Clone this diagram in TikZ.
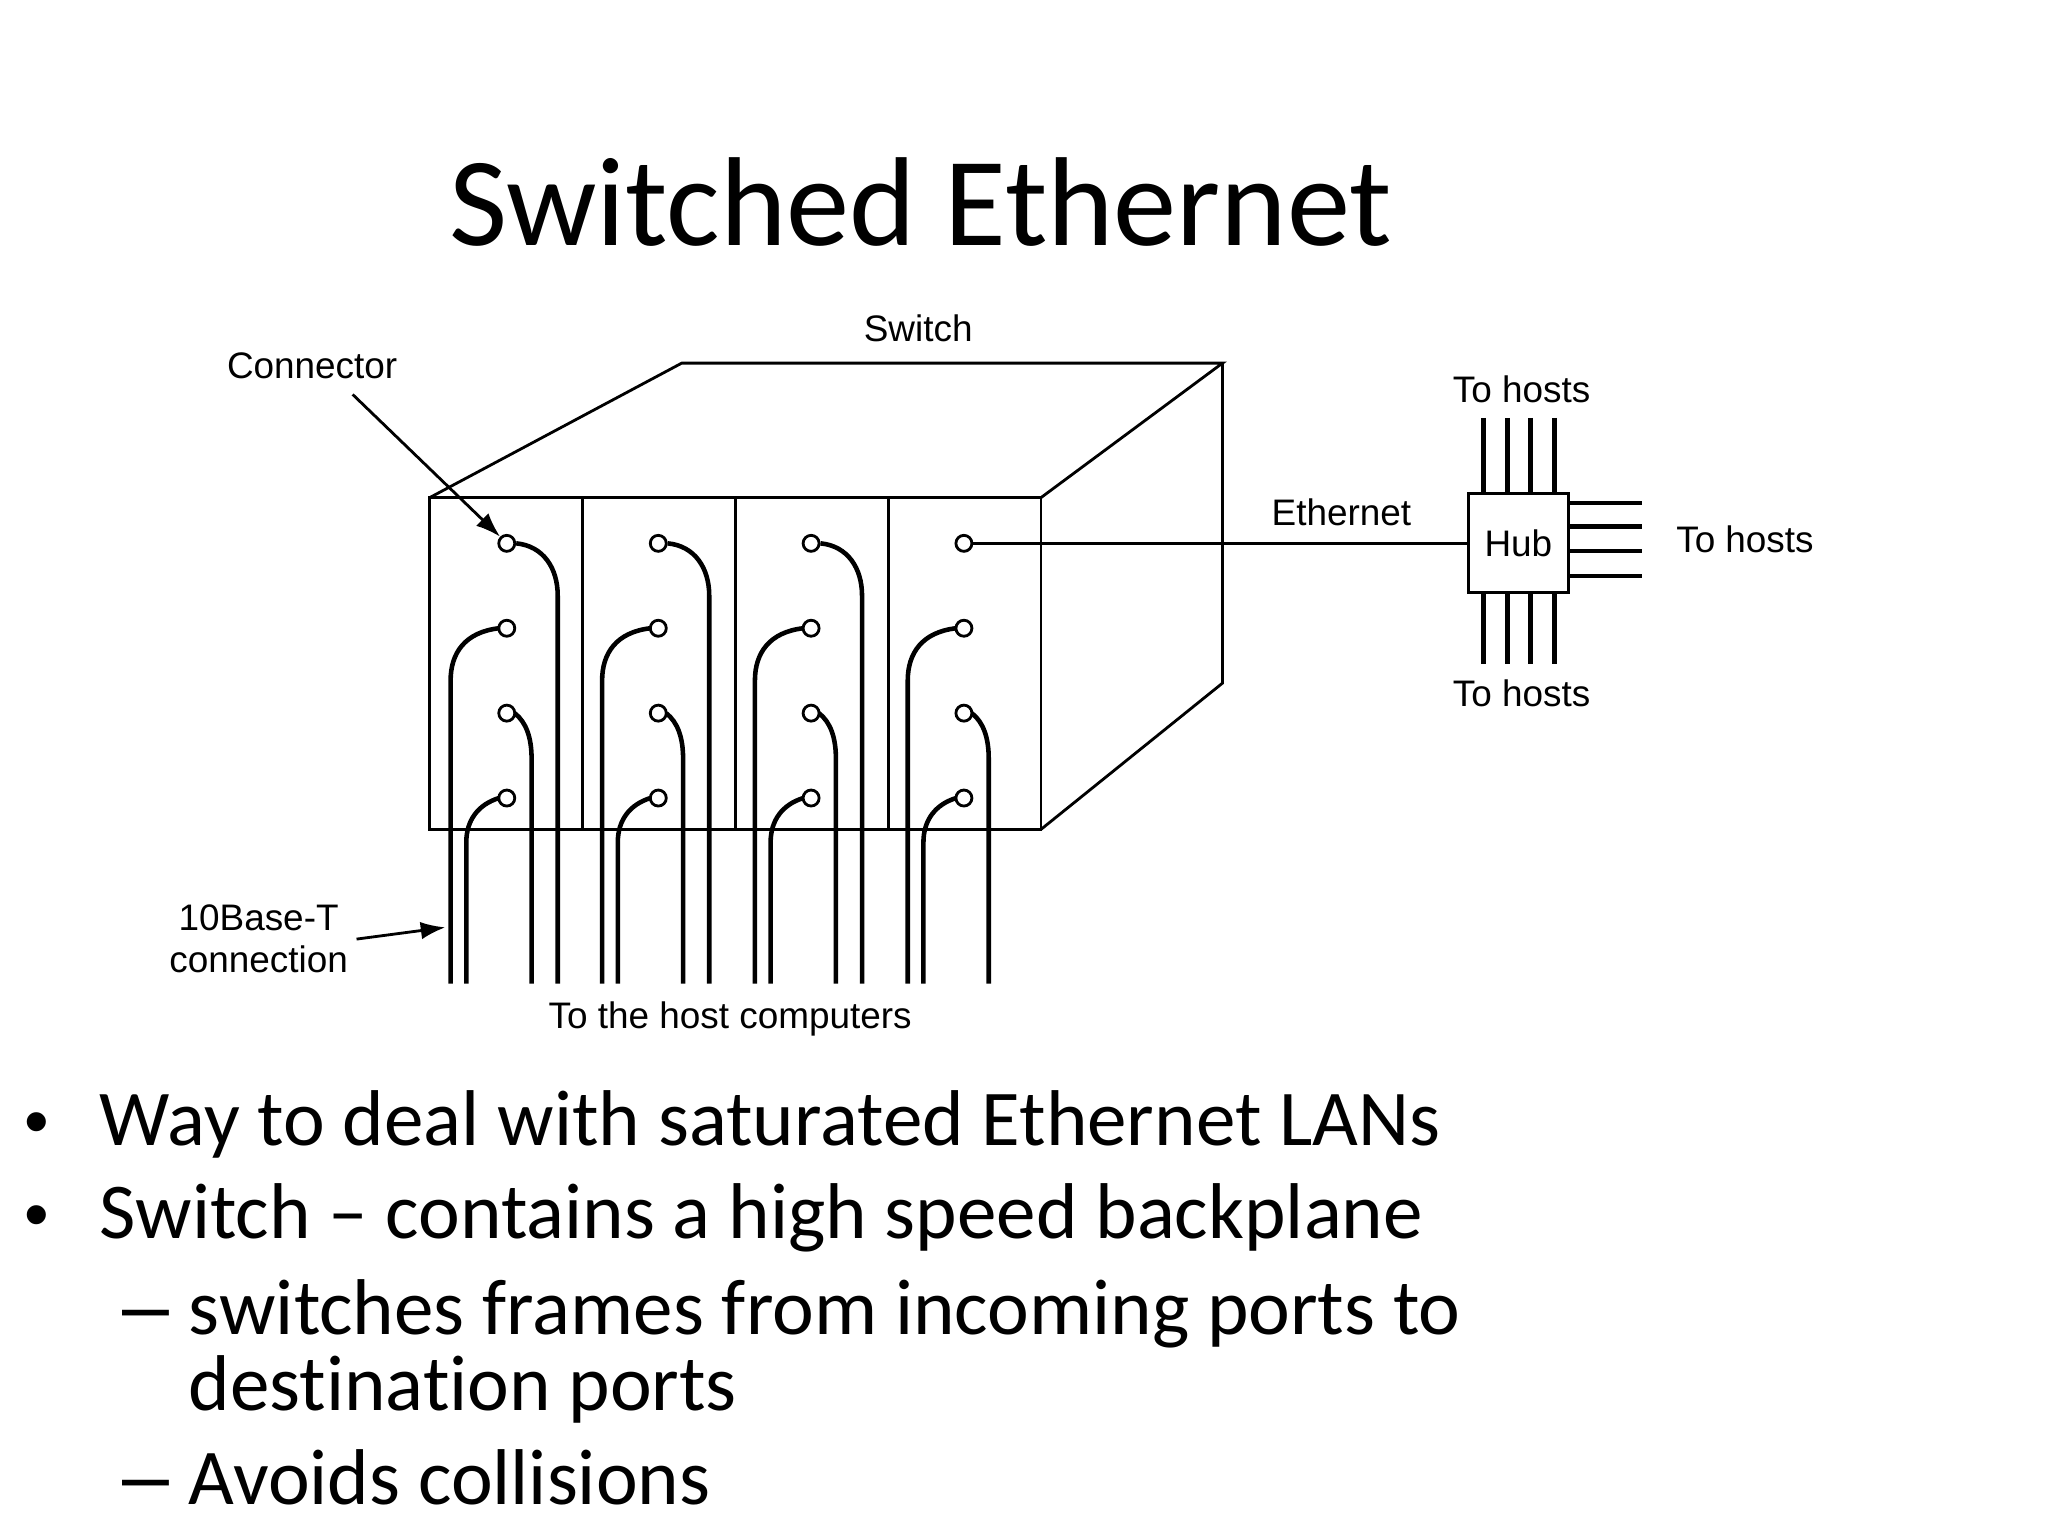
\documentclass[tikz,border=0pt]{standalone}
\usepackage{fontspec}
\setmainfont{Carlito}[Ligatures=NoCommon]
\newfontfamily\hv{Liberation Sans}
\usetikzlibrary{arrows.meta}
\begin{document}
\begin{tikzpicture}[x=0.013061cm,y=-0.013061cm,
  box/.style={line width=0.8pt},
  wire/.style={line width=1.3pt},
  port/.style={circle,draw,line width=0.8pt,inner sep=0pt,fill=white,minimum size=0.16cm},
  lab/.style={font=\hv\fontsize{10.5}{12}\selectfont,inner sep=1pt},
  arr/.style={box,-{Latex[length=7pt,width=5pt]}},
  bul/.style={font=\fontsize{22.5}{25}\selectfont,anchor=base west,inner sep=0pt}]
\useasboundingbox (0,0) rectangle (1568,1176);
\node[font=\fontsize{36}{40}\selectfont] (title) at (705,155) {Switched Ethernet};
% switch box
\draw[box] (329,381) rectangle (797,635);
\foreach \x in {446,563,680} \draw[box] (\x,381) -- (\x,635);
\draw[box] (329,381) -- (522,278) -- (936,278) -- (797,381);
\draw[box] (936,278) -- (936,523) -- (797,635);
% wires
\foreach \c/\x in {1/388,2/504,3/621,4/738}{
  \draw[wire] (\x-6,481) .. controls (\x-32,484) and (\x-43,500) .. (\x-43,521) -- (\x-43,753);
  \draw[wire] (\x+6,546) .. controls (\x+15,553) and (\x+19,565) .. (\x+19,581) -- (\x+19,753);
  \draw[wire] (\x-6,611) .. controls (\x-22,616) and (\x-31,628) .. (\x-31,645) -- (\x-31,753);
  \foreach \r/\y in {1/416,2/481,3/546,4/611} \node[port] (p\c\r) at (\x,\y) {};
}
\foreach \c/\x in {1/388,2/504,3/621}
  \draw[wire] (p\c1.east) .. controls (\x+28,418) and (\x+39,435) .. (\x+39,456) -- (\x+39,753);
% hub
\node[draw,box,inner sep=0pt,minimum width=1.0cm,minimum height=0.99cm,lab] (hub) at (1162.5,416) {Hub};
\draw[box] (p41.east) -- (hub.west);
\node[lab,anchor=south] (eth) at (1027,406) {Ethernet};
\foreach \x in {1136,1154,1172,1190}{
  \draw[wire] (\x,320) -- (hub.north -| \x,0);
  \draw[wire] (hub.south -| \x,0) -- (\x,508);}
\foreach \y in {385,403,422,441} \draw[wire] (hub.east |- 0,\y) -- (1257,\y);
\node[lab] (th1) at (1165,298) {To hosts};
\node[lab] (th2) at (1165,531) {To hosts};
\node[lab] (th3) at (1336,413) {To hosts};
\node[lab] (sw) at (703,251) {Switch};
\node[lab] (con) at (239,280) {Connector};
\draw[arr] (270,302) -- (p11.north west);
\node[lab,align=center] (tb) at (198,719) {10Base-T\\connection};
\coordinate (tbe) at (341,710);
\draw[arr] (273,719) -- (tbe);
\node[lab] (thc) at (559,780) {To the host computers};
% bullets
\node[bul,font=\hv\fontsize{20}{24}\selectfont] (b1) at (18,877) {•};
\node[bul] (t1) at (76,877) {Way to deal with saturated Ethernet LANs};
\node[bul,font=\hv\fontsize{20}{24}\selectfont] (b2) at (18,948) {•};
\node[bul] (t2) at (76,948) {Switch – contains a high speed backplane};
\node[bul,font=\hv\fontsize{24}{26}\selectfont] (d1) at (93,1022) {–};
\node[bul] (t3) at (144,1022) {switches frames from incoming ports to};
\node[bul] (t3b) at (144,1080) {destination ports};
\node[bul,font=\hv\fontsize{24}{26}\selectfont] (d2) at (93,1152) {–};
\node[bul] (t4) at (144,1152) {Avoids collisions};
\end{tikzpicture}
\end{document}
